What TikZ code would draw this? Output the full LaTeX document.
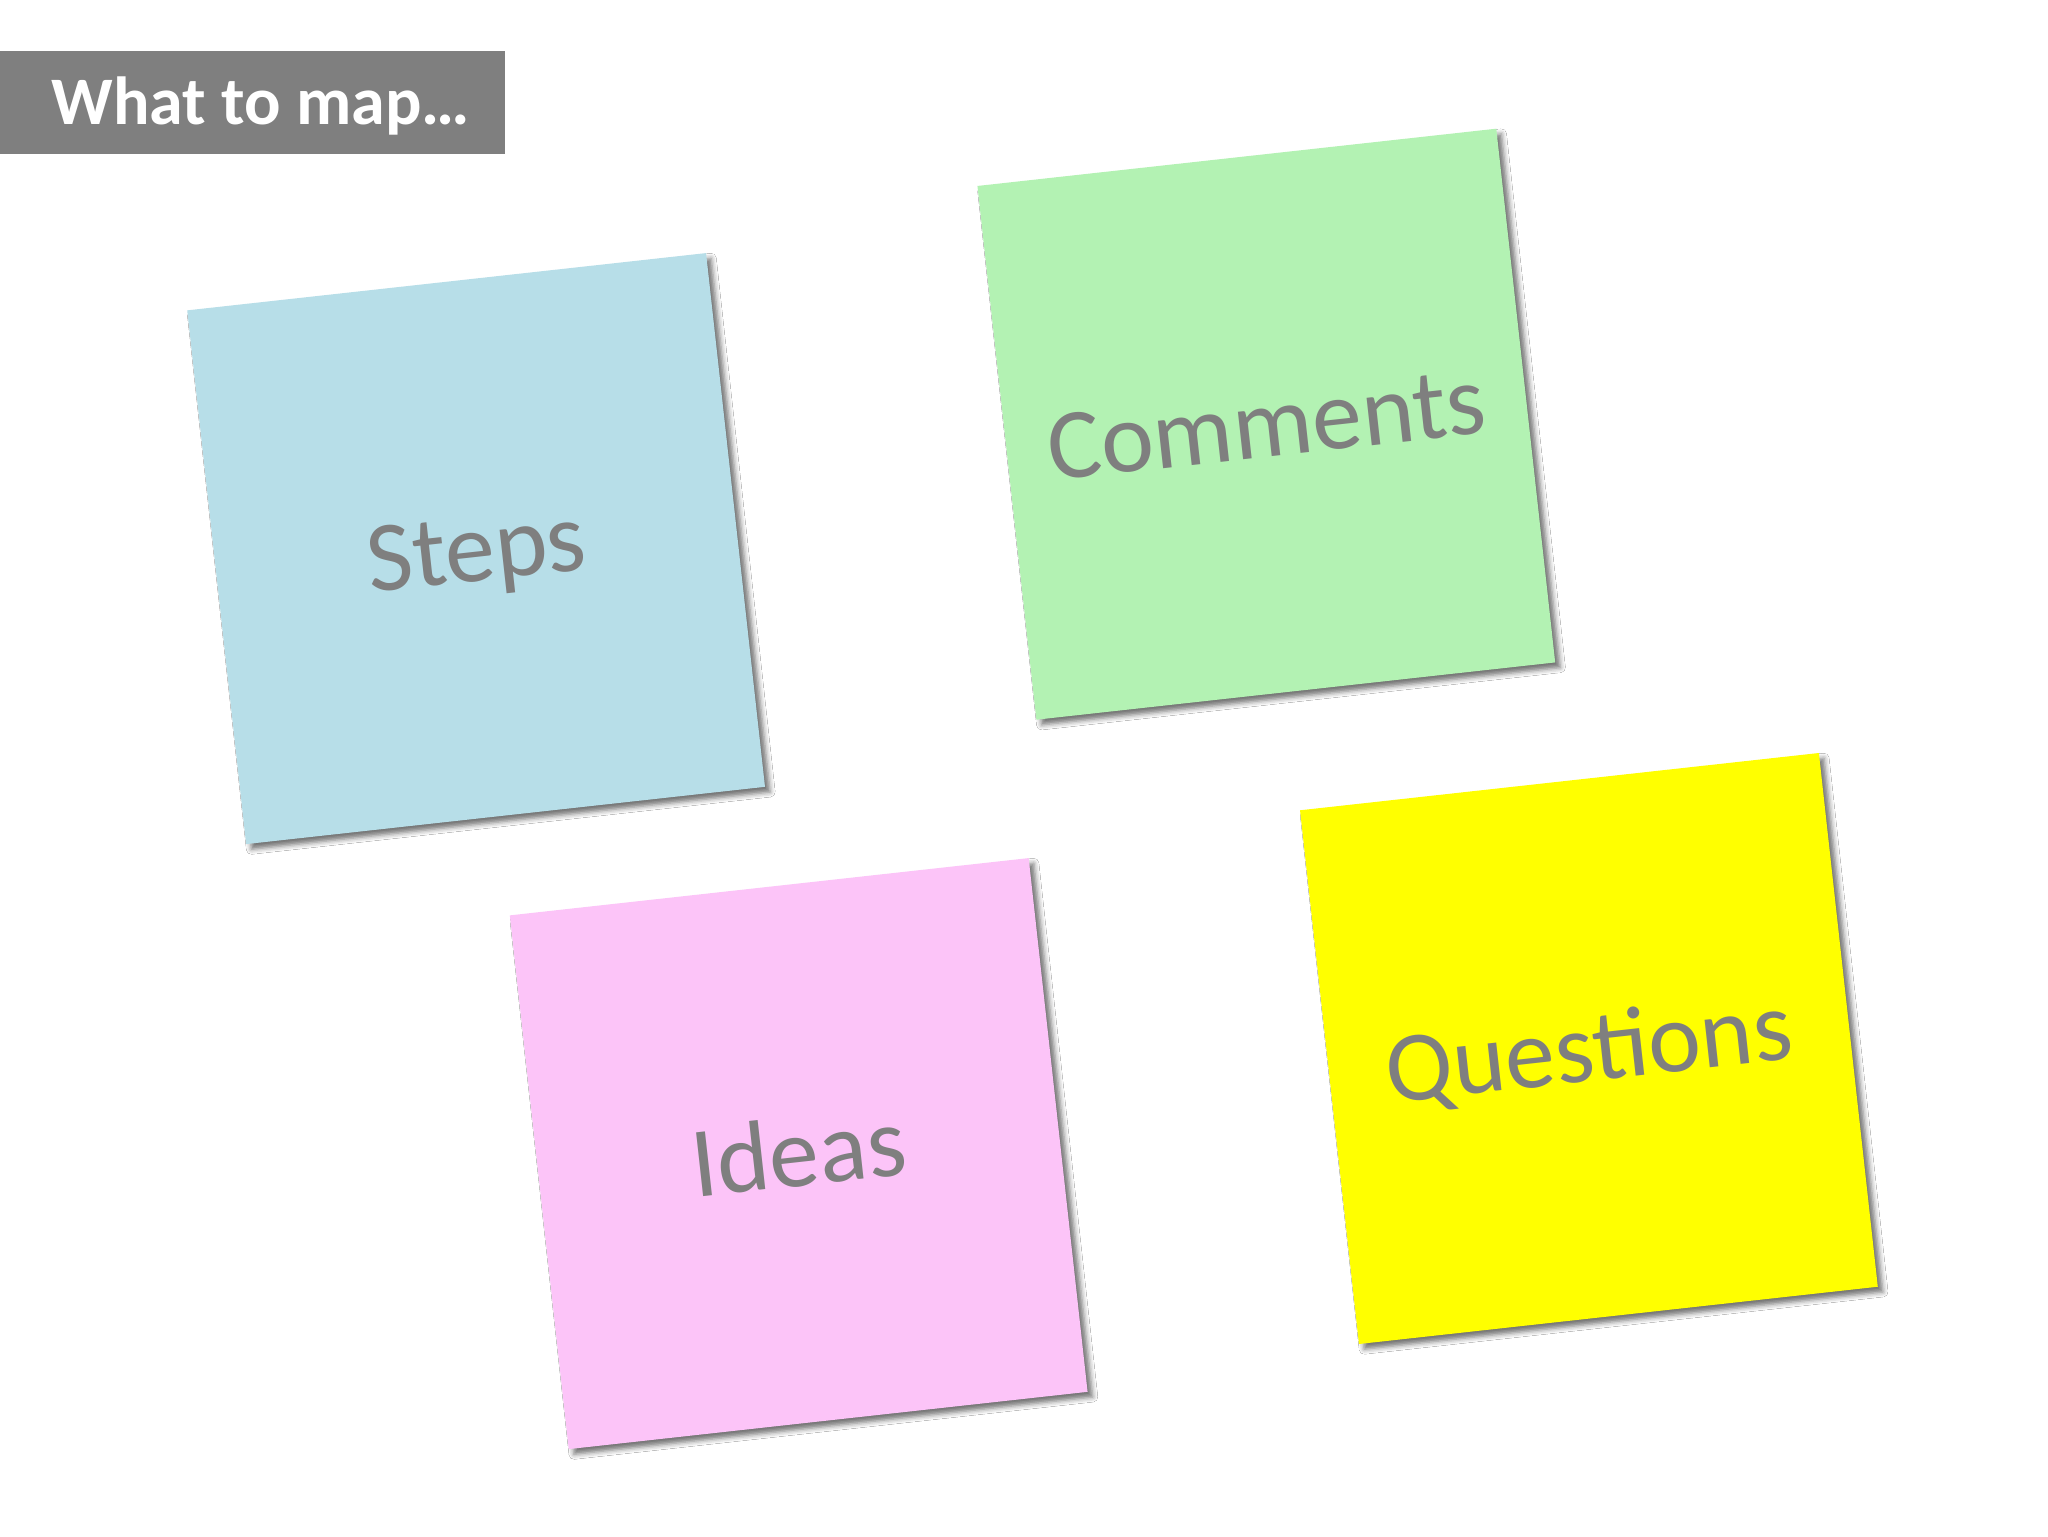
\documentclass[tikz,border=0pt]{standalone}
\usepackage{fontspec}
\setmainfont{Carlito}
\usetikzlibrary{shadows.blur}
\definecolor{titlegray}{HTML}{7F7F7F}
\definecolor{notetext}{HTML}{7F7F7F}
\definecolor{stepsblue}{HTML}{B7DEE8}
\definecolor{commgreen}{HTML}{B3F2B3}
\definecolor{ideaspink}{HTML}{FCC4F8}
\definecolor{questyellow}{HTML}{FFFF00}
\begin{document}
\begin{tikzpicture}[x=0.5pt,y=-0.5pt,
  note/.style={minimum width=261pt, minimum height=268.5pt, inner sep=0pt,
    text height=42.5pt, text depth=10pt,
    rotate=6.3, text=notetext, font=\fontsize{50}{60}\selectfont,
    blur shadow={shadow xshift=2.6pt, shadow yshift=-2.6pt, shadow blur radius=2.5pt, shadow opacity=55}},
  titlebox/.style={fill=titlegray, inner sep=0pt, minimum width=252.5pt, minimum height=51.5pt, anchor=north west},
  titletext/.style={text=white, inner sep=0pt, anchor=base west, font=\bfseries\fontsize{34}{40}\selectfont}]
\fill[white] (0,0) rectangle (2048,1536);
\useasboundingbox (0,0) rectangle (2048,1536);
\node[titlebox] (tbox) at (0,51) {};
\node[titletext] (ttext) at (51,125) {What to map…};
\node[note, fill=stepsblue] (steps) at (476.1,548.6) {Steps};
\node[note, fill=commgreen] (comments) at (1266.3,424.2) {Comments};
\node[note, fill=ideaspink] (ideas) at (798.7,1153.6) {Ideas};
\node[note, fill=questyellow] (questions) at (1588.9,1048.5) {Questions};
\end{tikzpicture}
\end{document}
